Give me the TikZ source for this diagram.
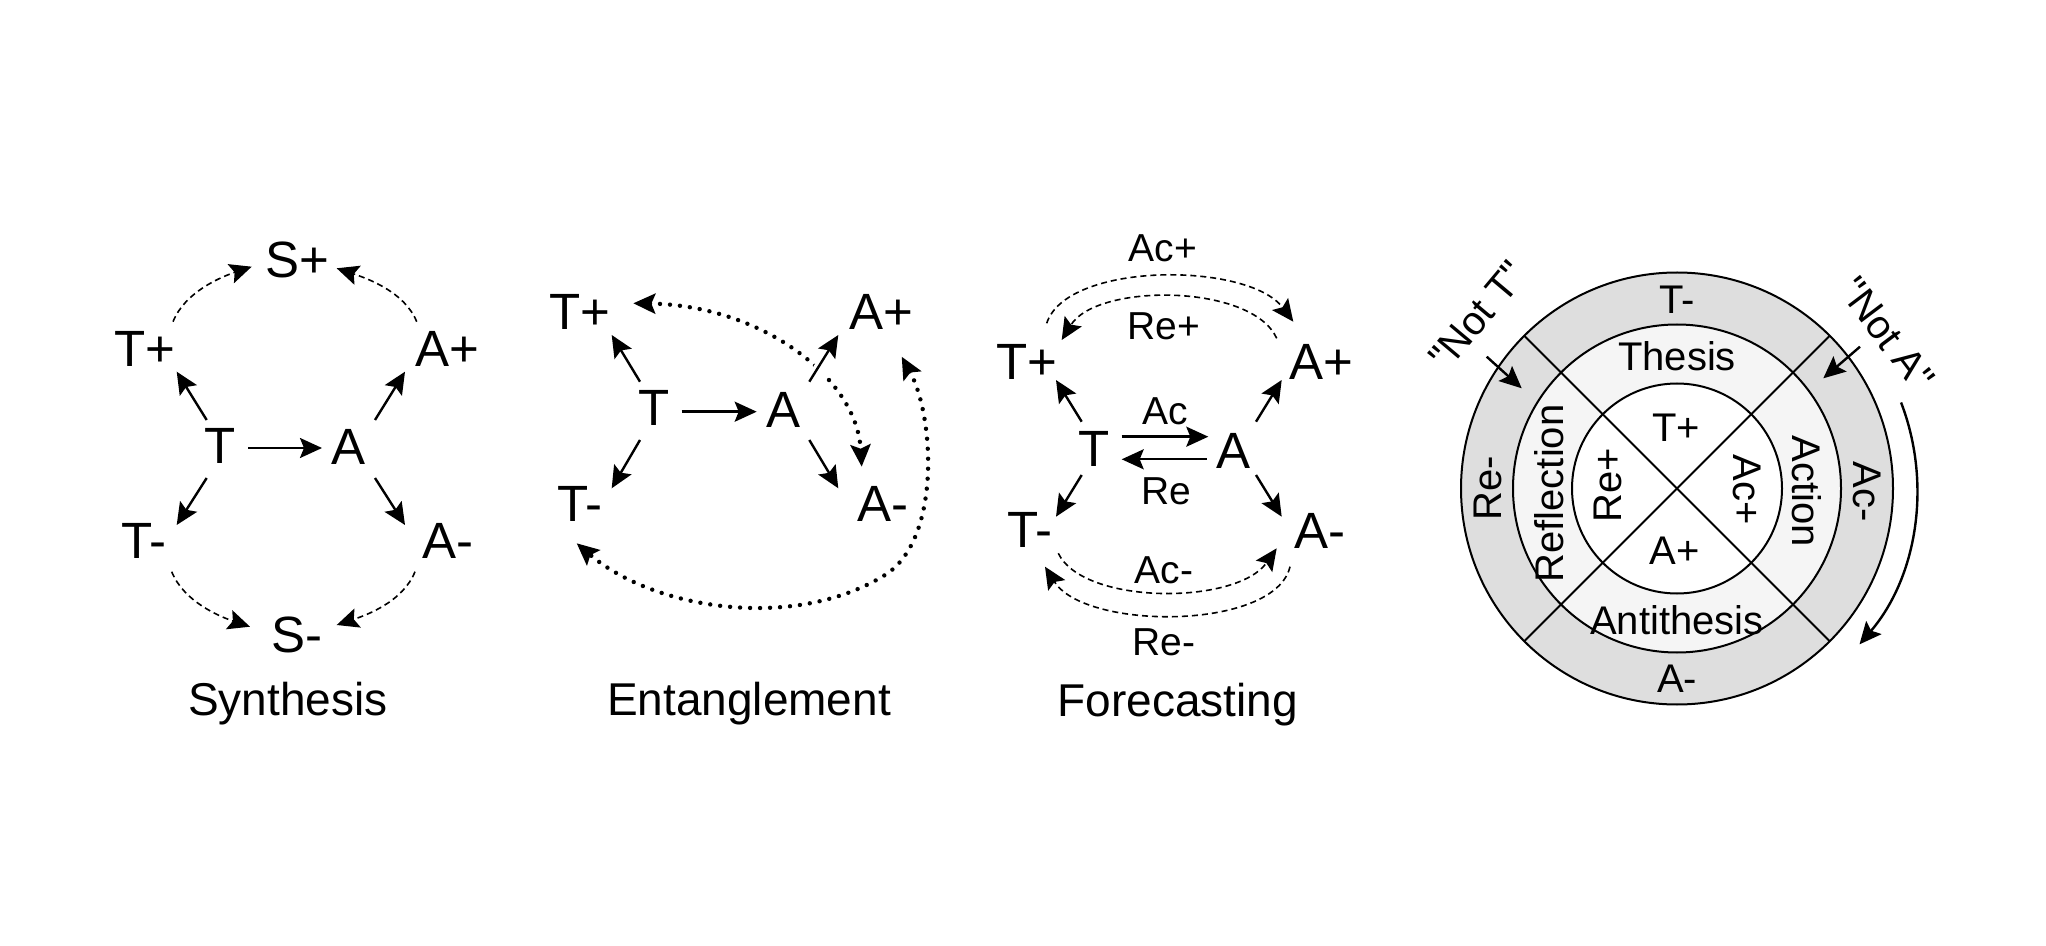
\documentclass[tikz,border=0pt]{standalone}
\usepackage{fontspec}
\setmainfont{Liberation Sans}
\newfontfamily\qfont{Liberation Sans}
\usetikzlibrary{arrows.meta,calc}
\definecolor{ringdark}{HTML}{DEDEDE}
\definecolor{ringlight}{HTML}{F5F5F5}
\begin{document}
\begin{tikzpicture}[x=0.5pt,y=-0.5pt,
  lbl/.style={inner sep=0pt, font=\fontsize{25.5}{26}\selectfont},
  capt/.style={inner sep=0pt, anchor=base, font=\fontsize{23}{24}\selectfont},
  sml/.style={inner sep=0pt, font=\fontsize{19.5}{20}\selectfont},
  ring/.style={inner sep=0pt, font=\fontsize{20}{21}\selectfont},
  headtip/.tip={Stealth[length=11pt,width=10pt,inset=2pt]},
  sarrow/.style={-headtip, line width=1.2pt},
  darrow/.style={-headtip, line width=0.8pt, dash pattern=on 3pt off 2pt},
  dotarrow/.style={headtip-headtip, line width=2.2pt, line cap=round, dash pattern=on 0pt off 5pt},
  circline/.style={line width=1pt},
]
\fill[white] (0,0) rectangle (2046,946);
\useasboundingbox (0,0) rectangle (2046,946);

% ---------------- Panel 1: Synthesis ----------------
\node[lbl] (sp)  at (297,260) {S+};
\node[lbl] (tp1) at (145,349) {T+};
\node[lbl] (ap1) at (447.5,349) {A+};
\node[lbl] (t1)  at (220,446) {T};
\node[lbl] (a1)  at (349,447) {A};
\node[lbl] (tm1) at (144,541) {T-};
\node[lbl] (am1) at (448,541) {A-};
\node[lbl] (sm1) at (297,635) {S-};
\node[capt] (c1) at (288,715) {Synthesis};

\draw[sarrow] ($(t1)+(28,2)$) -- ($(a1)+(-27,1)$);
\draw[sarrow] ($(t1)+(-13.3,-26)$) -- ($(tp1)+(31.7,22.7)$);
\draw[sarrow] ($(t1)+(-13.3,32)$) -- ($(tm1)+(32.7,-16)$);
\draw[sarrow] ($(a1)+(26,-27)$) -- ($(ap1)+(-42.5,22.7)$);
\draw[sarrow] ($(a1)+(26,31)$) -- ($(am1)+(-43,-16)$);

\draw[darrow] ($(tp1)+(28,-27.3)$) .. controls +(12,-30) and +(-30,10) .. ($(sp)+(-45.3,6.7)$);
\draw[darrow] ($(ap1)+(-30.8,-27.3)$) .. controls +(-12,-30) and +(30,10) .. ($(sp)+(39.7,8.3)$);
\draw[darrow] ($(tm1)+(27.7,30.7)$) .. controls +(12,30) and +(-30,-10) .. ($(sm1)+(-47,-8.3)$);
\draw[darrow] ($(am1)+(-33,30.7)$) .. controls +(-12,30) and +(30,-10) .. ($(sm1)+(39.7,-10)$);

% ---------------- Panel 2: Entanglement ----------------
\node[lbl] (tp2) at (580,312) {T+};
\node[lbl] (ap2) at (881,312) {A+};
\node[lbl] (t2)  at (654,408) {T};
\node[lbl] (a2)  at (783,410) {A};
\node[lbl] (tm2) at (580,504) {T-};
\node[lbl] (am2) at (882.5,504) {A-};
\node[capt] (c2) at (749,715) {Entanglement};

\draw[dotarrow] ($(tp2)+(53.3,-8.7)$) .. controls +(127,2) and +(-5,-90) .. ($(am2)+(-20.8,-37.3)$);
\draw[dotarrow] ($(ap2)+(20.7,44.7)$) .. controls +(33,60) and +(56,-35) .. ($(am2)+(2.5,71)$)
   .. controls +(-90,56) and +(78,67) .. ($(tm2)+(-3.3,39.3)$);

\draw[sarrow] ($(t2)+(27.7,3.7)$) -- ($(a2)+(-26.3,1.7)$);
\draw[sarrow] ($(t2)+(-14,-26.3)$) -- ($(tp2)+(31.7,23)$);
\draw[sarrow] ($(t2)+(-14,32)$) -- ($(tm2)+(31.7,-15.7)$);
\draw[white, line width=7pt] ($(a2)+(34,-36)$) -- ($(a2)+(44,-52)$);
\draw[sarrow] ($(a2)+(26.3,-28.3)$) -- ($(ap2)+(-42.7,23)$);
\draw[sarrow] ($(a2)+(26.3,30)$) -- ($(am2)+(-44.2,-15.7)$);

% ---------------- Panel 3: Forecasting ----------------
\node[lbl] (tp3) at (1027,362) {T+};
\node[lbl] (ap3) at (1321,362) {A+};
\node[lbl] (t3)  at (1094,449) {T};
\node[lbl] (a3)  at (1233,451) {A};
\node[lbl] (tm3) at (1030,530) {T-};
\node[lbl] (am3) at (1320,531) {A-};
\node[sml] (lacp) at (1163,248) {Ac+};
\node[sml] (lrep) at (1164,326) {Re+};
\node[sml] (lac)  at (1165,411) {Ac};
\node[sml] (lre)  at (1166,491) {Re};
\node[sml] (lacm) at (1164,570) {Ac-};
\node[sml] (lrem) at (1164,642) {Re-};
\node[capt] (c3) at (1178,716) {Forecasting};

\draw[sarrow] ($(t3)+(27.7,-12.3)$) -- ($(a3)+(-24.7,-14.3)$);
\draw[sarrow] ($(a3)+(-26.3,8.3)$) -- ($(t3)+(27.7,10.3)$);
\draw[sarrow] ($(t3)+(-12.3,-27.3)$) -- ($(tp3)+(29,18)$);
\draw[sarrow] ($(t3)+(-12.3,26)$) -- ($(tm3)+(26,-13.3)$);
\draw[sarrow] ($(a3)+(23,-29.3)$) -- ($(ap3)+(-39.3,18)$);
\draw[sarrow] ($(a3)+(23,24)$) -- ($(am3)+(-38.3,-14.3)$);

\draw[darrow] ($(tp3)+(19.7,-38.7)$) .. controls +(20,-62) and +(-45,-60) .. ($(ap3)+(-27.7,-40.3)$);
\draw[darrow] ($(ap3)+(-44.3,-23.7)$) .. controls +(-25,-55) and +(35,-57) .. ($(tp3)+(34.7,-22)$);
\draw[darrow] ($(tm3)+(28.3,23.3)$) .. controls +(25,52) and +(-40,57) .. ($(am3)+(-43.3,17.3)$);
\draw[darrow] ($(am3)+(-30,35.7)$) .. controls +(-15,64) and +(40,64) .. ($(tm3)+(15,36.7)$);

% ---------------- Panel 4: circle ----------------
\coordinate (C) at (1677,488.5);
\fill[ringdark] (C) circle[radius=216];
\fill[ringlight] (C) circle[radius=164];
\fill[white] (C) circle[radius=105];
\draw[circline] (C) circle[radius=216];
\draw[circline] (C) circle[radius=164];
\draw[circline] (C) circle[radius=105];
\draw[circline] ($(C)+(45:216)$) -- ($(C)+(225:216)$);
\draw[circline] ($(C)+(135:216)$) -- ($(C)+(-45:216)$);

\node[ring] (tm4) at ($(C)+(0,-189)$) {T-};
\node[ring] (am4) at ($(C)+(0,190)$) {A-};
\node[ring, rotate=90] (rem4) at ($(C)+(-189,0)$) {Re-};
\node[ring, rotate=-90] (acm4) at ($(C)+(190,3)$) {Ac-};
\node[ring] (thes) at ($(C)+(0,-132)$) {Thesis};
\node[ring] (anti) at ($(C)+(0,132)$) {Antithesis};
\node[ring, rotate=90] (refl) at ($(C)+(-128,5)$) {Reflection};
\node[ring, rotate=-90] (actn) at ($(C)+(130,3)$) {Action};
\node[ring] (tp4) at ($(C)+(-1,-61)$) {T+};
\node[ring] (ap4) at ($(C)+(-2,62)$) {A+};
\node[ring, rotate=90] (rep4) at ($(C)+(-69,-3)$) {Re+};
\node[ring, rotate=-90] (acp4) at ($(C)+(70,1)$) {Ac+};

\node[ring, font=\qfont\fontsize{20}{21}\selectfont, rotate=50] (nott) at (1478,315) {"Not T"};
\node[ring, font=\qfont\fontsize{20}{21}\selectfont, rotate=-53] (nota) at (1887,334) {"Not A"};

\draw[sarrow] ($(nott)+(8.7,41.7)$) -- ($(nott)+(43.7,73.3)$);
\draw[sarrow] ($(nota)+(-27,12.7)$) -- ($(nota)+(-63.7,44.3)$);
\draw[sarrow] ($(C)+(-21:240)$) arc[start angle=-21, end angle=40.5, radius=240];
\end{tikzpicture}
\end{document}
